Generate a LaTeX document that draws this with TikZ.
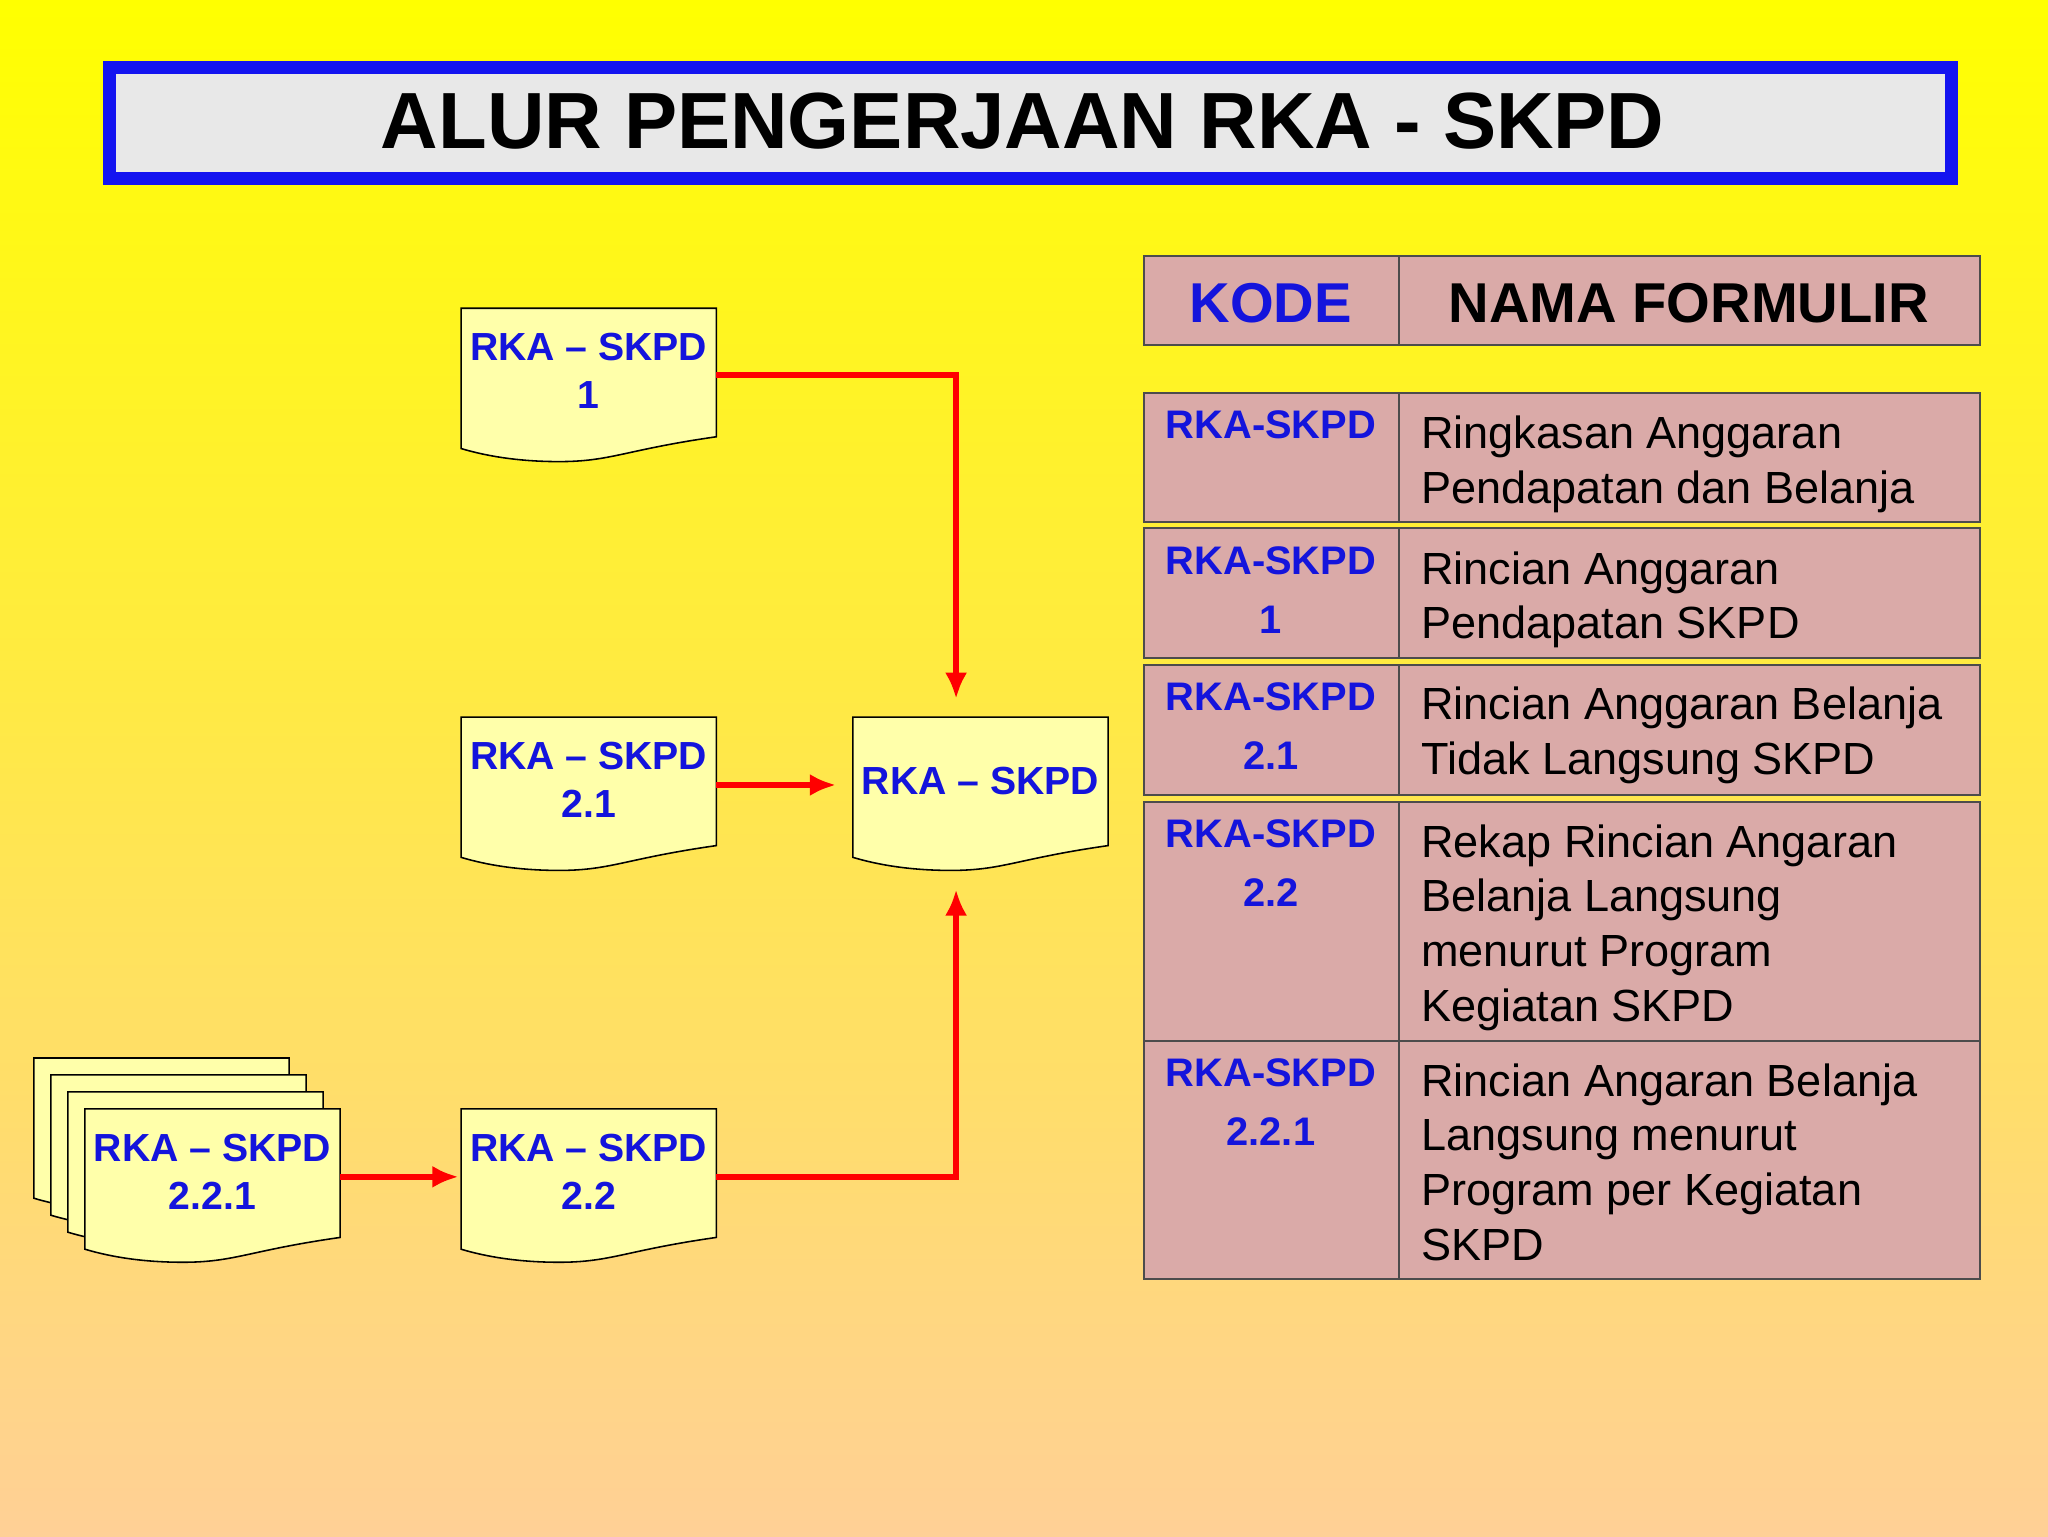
\documentclass[tikz,border=0pt]{standalone}
\usepackage{fontspec}
\setmainfont{Liberation Sans}
\usetikzlibrary{arrows.meta}
\definecolor{bgtop}{RGB}{255,255,0}
\definecolor{bgbot}{RGB}{255,208,150}
\definecolor{docfill}{RGB}{255,255,170}
\definecolor{cellfill}{RGB}{218,170,168}
\definecolor{titleblue}{RGB}{20,20,240}
\definecolor{txtblue}{RGB}{20,20,220}
\tikzset{
  docnode/.style={minimum width=195pt,minimum height=95pt,inner sep=0pt,anchor=north west},
  doctext/.style={font=\fontsize{30}{37}\selectfont\bfseries,text=txtblue,align=center},
  docline/.style={draw=black,line width=1.2pt,fill=docfill},
  flow/.style={draw=red,line width=5pt,-{Latex[length=20pt,width=17pt]}},
  cell/.style={draw=black!70,line width=1.5pt,fill=cellfill},
  code/.style={font=\fontsize{30.5}{45}\selectfont\bfseries,text=txtblue,align=center,anchor=north},
  fname/.style={font=\fontsize{34.5}{42}\selectfont,text=black,align=left,anchor=north west,inner sep=0pt}
}
\newcommand{\docshape}[1]{%
  \path[docline] (#1.north west) -- (#1.north east) -- ([yshift=-3pt]#1.south east)
    .. controls +(-70pt,-10pt) and +(40pt,0pt) .. ([xshift=75pt,yshift=-22pt]#1.south west)
    .. controls +(-30pt,0pt) and +(20pt,-6pt) .. ([yshift=-12pt]#1.south west) -- cycle;}
\begin{document}
\begin{tikzpicture}[x=1pt,y=-1pt]
\shade[top color=bgtop,bottom color=bgbot] (0,0) rectangle (1568,1176);
\useasboundingbox (0,0) rectangle (1568,1176);
% title
\node[draw=titleblue,line width=10pt,fill=gray!18,minimum width=1410pt,minimum height=85pt,anchor=north west] (title) at (79,47) {};
\node[font=\fontsize{61}{61}\selectfont\bfseries] (tt) at (783,93) {ALUR PENGERJAAN RKA - SKPD};
% docs
\node[docnode] (d1) at (353,236) {};
\node[docnode] (d21) at (353,549) {};
\node[docnode] (dm) at (653,549) {};
\node[docnode] (d22) at (353,849) {};
\node[docnode] (s1) at (26,810) {};
\node[docnode] (s2) at (39,823) {};
\node[docnode] (s3) at (52,836) {};
\node[docnode] (s4) at (65,849) {};
\foreach \n in {s1,s2,s3,s4,d1,d21,dm,d22}{\docshape{\n}}
\node[doctext] at ([yshift=-48pt]d1.north) {RKA – SKPD\\1};
\node[doctext] at ([yshift=-48pt]d21.north) {RKA – SKPD\\2.1};
\node[doctext] at ([yshift=-49pt]dm.north) {RKA – SKPD};
\node[doctext] at ([yshift=-48pt]d22.north) {RKA – SKPD\\2.2};
\node[doctext] at ([yshift=-48pt]s4.north) {RKA – SKPD\\2.2.1};
% arrows
\coordinate (c1) at (732,287);
\coordinate (c2) at (732,901);
\coordinate (t1) at (732,535);
\coordinate (t2) at (732,681);
\coordinate (t3) at (640,601);
\draw[flow] (d1.east |- c1) -- (c1) -- (t1);
\draw[flow] (d21.east |- t3) -- (t3);
\draw[flow] (d22.east |- c2) -- (c2) -- (t2);
\coordinate (t4) at (351,901);
\draw[flow] (s4.east |- t4) -- (t4);
% table
\path[cell] (876,196) rectangle (1071,264);
\path[cell] (1071,196) rectangle (1516,264);
\node[font=\fontsize{43}{43}\selectfont\bfseries,text=txtblue] (hk) at (973,232) {KODE};
\node[font=\fontsize{43}{43}\selectfont\bfseries] (hn) at (1293,232) {NAMA FORMULIR};
\foreach \a/\b in {301/400,404/504,509/609,614/797,797/979}{
  \path[cell] (876,\a) rectangle (1071,\b);
  \path[cell] (1071,\a) rectangle (1516,\b);}
\node[code] (k1) at (973,311) {RKA-SKPD};
\node[code] (k2) at (973,415) {RKA-SKPD\\1};
\node[code] (k3) at (973,519) {RKA-SKPD\\2.1};
\node[code] (k4) at (973,624) {RKA-SKPD\\2.2};
\node[code] (k5) at (973,807) {RKA-SKPD\\2.2.1};
\node[fname] (n1) at (1088,318) {Ringkasan Anggaran\\Pendapatan dan Belanja};
\node[fname] (n2) at (1088,422) {Rincian Anggaran\\Pendapatan SKPD};
\node[fname] (n3) at (1088,526) {Rincian Anggaran Belanja\\Tidak Langsung SKPD};
\node[fname] (n4) at (1088,631) {Rekap Rincian Angaran\\Belanja Langsung\\menurut Program\\Kegiatan SKPD};
\node[fname] (n5) at (1088,814) {Rincian Angaran Belanja\\Langsung menurut\\Program per Kegiatan\\SKPD};
\end{tikzpicture}
\end{document}
